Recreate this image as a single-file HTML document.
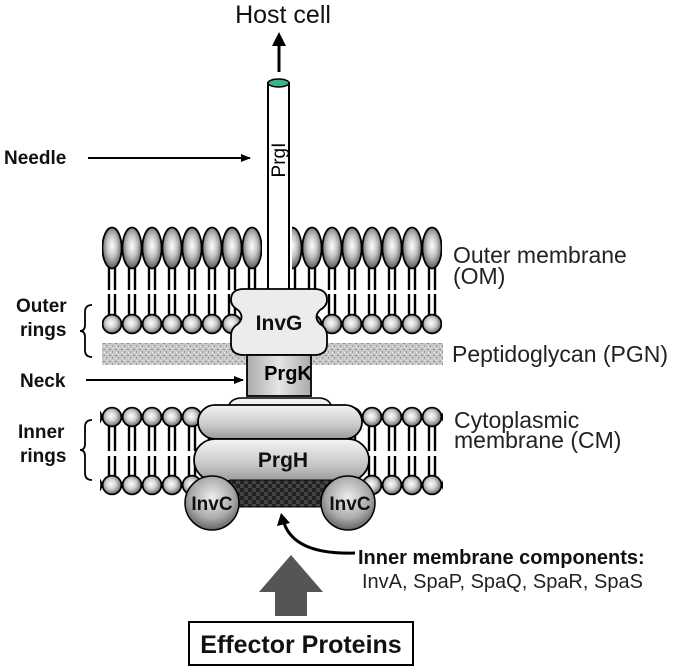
<!DOCTYPE html>
<html><head><meta charset="utf-8"><style>
html,body{margin:0;padding:0;background:#fff;}
svg{display:block;font-family:"Liberation Sans",Arial,sans-serif;}
</style></head><body>
<svg width="685" height="669" viewBox="0 0 685 669" xmlns="http://www.w3.org/2000/svg">
<defs>
<radialGradient id="hg" cx="0.45" cy="0.45" r="0.6"><stop offset="0" stop-color="#fff"/><stop offset="0.45" stop-color="#d0d0d0"/><stop offset="1" stop-color="#555"/></radialGradient>
<radialGradient id="og" cx="0.5" cy="0.45" r="0.6"><stop offset="0" stop-color="#fff"/><stop offset="0.45" stop-color="#c4c4c4"/><stop offset="1" stop-color="#444"/></radialGradient>
<radialGradient id="cg" cx="0.5" cy="0.4" r="0.65"><stop offset="0" stop-color="#eee"/><stop offset="0.6" stop-color="#aaa"/><stop offset="1" stop-color="#555"/></radialGradient>
<linearGradient id="rg" x1="0" y1="0" x2="0" y2="1"><stop offset="0" stop-color="#f4f4f4"/><stop offset="0.6" stop-color="#c8c8c8"/><stop offset="1" stop-color="#9a9a9a"/></linearGradient>
<linearGradient id="kg" x1="0" y1="0" x2="1" y2="0"><stop offset="0" stop-color="#aaa"/><stop offset="0.5" stop-color="#e6e6e6"/><stop offset="1" stop-color="#aaa"/></linearGradient>
<pattern id="om" x="102" y="0" width="20" height="669" patternUnits="userSpaceOnUse">
<g stroke="#000" stroke-width="2.4"><line x1="7" y1="266" x2="7" y2="290"/><line x1="13" y1="266" x2="13" y2="290"/><line x1="7" y1="294" x2="7" y2="318"/><line x1="13" y1="294" x2="13" y2="318"/></g>
<ellipse cx="10" cy="248" rx="9.6" ry="20.5" fill="url(#og)" stroke="#000" stroke-width="1.8"/>
<circle cx="10" cy="324" r="9.4" fill="url(#hg)" stroke="#000" stroke-width="1.8"/>
</pattern>
<pattern id="im" x="102" y="0" width="20" height="669" patternUnits="userSpaceOnUse">
<g stroke="#000" stroke-width="2.4"><line x1="7" y1="420" x2="7" y2="451"/><line x1="13" y1="420" x2="13" y2="451"/><line x1="7" y1="456" x2="7" y2="482"/><line x1="13" y1="456" x2="13" y2="482"/></g>
<circle cx="10" cy="417" r="9.4" fill="url(#hg)" stroke="#000" stroke-width="1.8"/>
<circle cx="10" cy="485" r="9.4" fill="url(#hg)" stroke="#000" stroke-width="1.8"/>
</pattern>
<pattern id="chk" width="8" height="8" patternUnits="userSpaceOnUse"><rect width="8" height="8" fill="#444"/><rect width="4" height="4" fill="#222"/><rect x="4" y="4" width="4" height="4" fill="#222"/></pattern>
<pattern id="pgn" width="6" height="6" patternUnits="userSpaceOnUse"><rect width="6" height="6" fill="#c8c8c8"/><rect x="1" y="1" width="2" height="1" fill="#8a8a8a"/><rect x="4" y="3" width="1" height="2" fill="#999"/><rect x="2" y="4" width="1" height="1" fill="#eee"/><rect x="4" y="0" width="1" height="1" fill="#eee"/></pattern>
<marker id="ar" markerWidth="10" markerHeight="8" refX="9" refY="4" orient="auto" markerUnits="userSpaceOnUse"><path d="M0,0 L10,4 L0,8 z" fill="#000"/></marker>
</defs>

<!-- membranes -->
<rect x="102" y="226" width="160" height="110" fill="url(#om)"/>
<rect x="292" y="226" width="150" height="110" fill="url(#om)"/>
<rect x="102" y="343" width="341" height="22" fill="url(#pgn)"/>
<rect x="100" y="406" width="343" height="90" fill="url(#im)"/>

<!-- needle -->
<rect x="268" y="83" width="21" height="220" fill="#fff" stroke="#000" stroke-width="2"/>
<ellipse cx="278.5" cy="83" rx="10.5" ry="4" fill="#3cb48a" stroke="#000" stroke-width="1.5"/>
<line x1="279" y1="72" x2="279" y2="44" stroke="#000" stroke-width="3"/>
<path d="M272,46 L279,32 L286,46 z" fill="#000"/>
<text x="285" y="160" font-size="19" transform="rotate(-90 285 160)" text-anchor="middle">PrgI</text>
<text x="283" y="23" font-size="25" text-anchor="middle" fill="#111">Host cell</text>

<!-- InvG -->
<path d="M244,289 H314 Q327,289 327,300 Q327,306 320,310 Q313,317 320,324 Q327,328 327,336 V344 Q327,355 314,355 H244 Q231,355 231,344 V336 Q231,328 238,324 Q245,317 238,310 Q231,306 231,300 Q231,289 244,289 z" fill="#ececec" stroke="#000" stroke-width="1.8"/>
<text x="279" y="330" font-size="21" font-weight="bold" text-anchor="middle" fill="#111">InvG</text>

<!-- PrgK -->
<rect x="247" y="355" width="64" height="41" fill="url(#kg)" stroke="#000" stroke-width="1.8"/>
<text x="288" y="380" font-size="20" font-weight="bold" text-anchor="middle">PrgK</text>
<path d="M228,408 Q230,398 242,398 H318 Q330,398 332,408 z" fill="#f0f0f0" stroke="#000" stroke-width="1.5"/>

<!-- PrgH -->
<rect x="198" y="405" width="164" height="34" rx="17" fill="url(#rg)" stroke="#000" stroke-width="1.8"/>
<rect x="194" y="439" width="175" height="42" rx="21" fill="url(#rg)" stroke="#000" stroke-width="1.8"/>
<text x="283" y="467" font-size="21" font-weight="bold" text-anchor="middle" fill="#111">PrgH</text>

<!-- export apparatus -->
<rect x="230" y="480" width="104" height="27" fill="url(#chk)" stroke="#000" stroke-width="1"/>
<circle cx="212" cy="503" r="27" fill="url(#cg)" stroke="#000" stroke-width="1.5"/>
<circle cx="348" cy="503" r="27" fill="url(#cg)" stroke="#000" stroke-width="1.5"/>
<text x="212" y="510" font-size="19" font-weight="bold" text-anchor="middle" fill="#111">InvC</text>
<text x="350" y="510" font-size="19" font-weight="bold" text-anchor="middle" fill="#111">InvC</text>

<!-- left labels -->
<g font-size="19" font-weight="bold" fill="#111">
<text x="4" y="164">Needle</text>
<text x="16" y="312">Outer</text>
<text x="20" y="336">rings</text>
<text x="20" y="387">Neck</text>
<text x="18" y="438">Inner</text>
<text x="20" y="462">rings</text>
</g>
<line x1="88" y1="158" x2="250" y2="158" stroke="#000" stroke-width="2" marker-end="url(#ar)"/>
<path d="M92,305 Q85,305 85,312 V325 Q85,331 80,331 Q85,331 85,337 V350 Q85,357 92,357" fill="none" stroke="#000" stroke-width="1.8"/>
<line x1="86" y1="380" x2="243" y2="380" stroke="#000" stroke-width="2" marker-end="url(#ar)"/>
<path d="M92,420 Q85,420 85,427 V444 Q85,450 80,450 Q85,450 85,456 V473 Q85,480 92,480" fill="none" stroke="#000" stroke-width="1.8"/>

<!-- right labels -->
<g font-size="23" fill="#222">
<text x="453" y="263">Outer membrane</text>
<text x="453" y="284">(OM)</text>
<text x="452" y="362">Peptidoglycan (PGN)</text>
<text x="454" y="428">Cytoplasmic</text>
<text x="454" y="448">membrane (CM)</text>
</g>

<!-- bottom -->
<path d="M355,553 Q295,555 284,523" fill="none" stroke="#000" stroke-width="3"/>
<path d="M277,526 L281,513 L290,523 z" fill="#000"/>
<text x="358" y="564" font-size="20" font-weight="bold" fill="#111">Inner membrane components:</text>
<text x="362" y="588" font-size="20" fill="#222">InvA,  SpaP, SpaQ, SpaR, SpaS</text>
<path d="M259,592 L291,555 L323,592 H307 V616 H275 V592 z" fill="#555"/>
<rect x="189" y="622" width="224" height="43" fill="#fff" stroke="#000" stroke-width="2"/>
<text x="301" y="653" font-size="25" font-weight="bold" text-anchor="middle" fill="#111">Effector Proteins</text>
</svg>
</body></html>
